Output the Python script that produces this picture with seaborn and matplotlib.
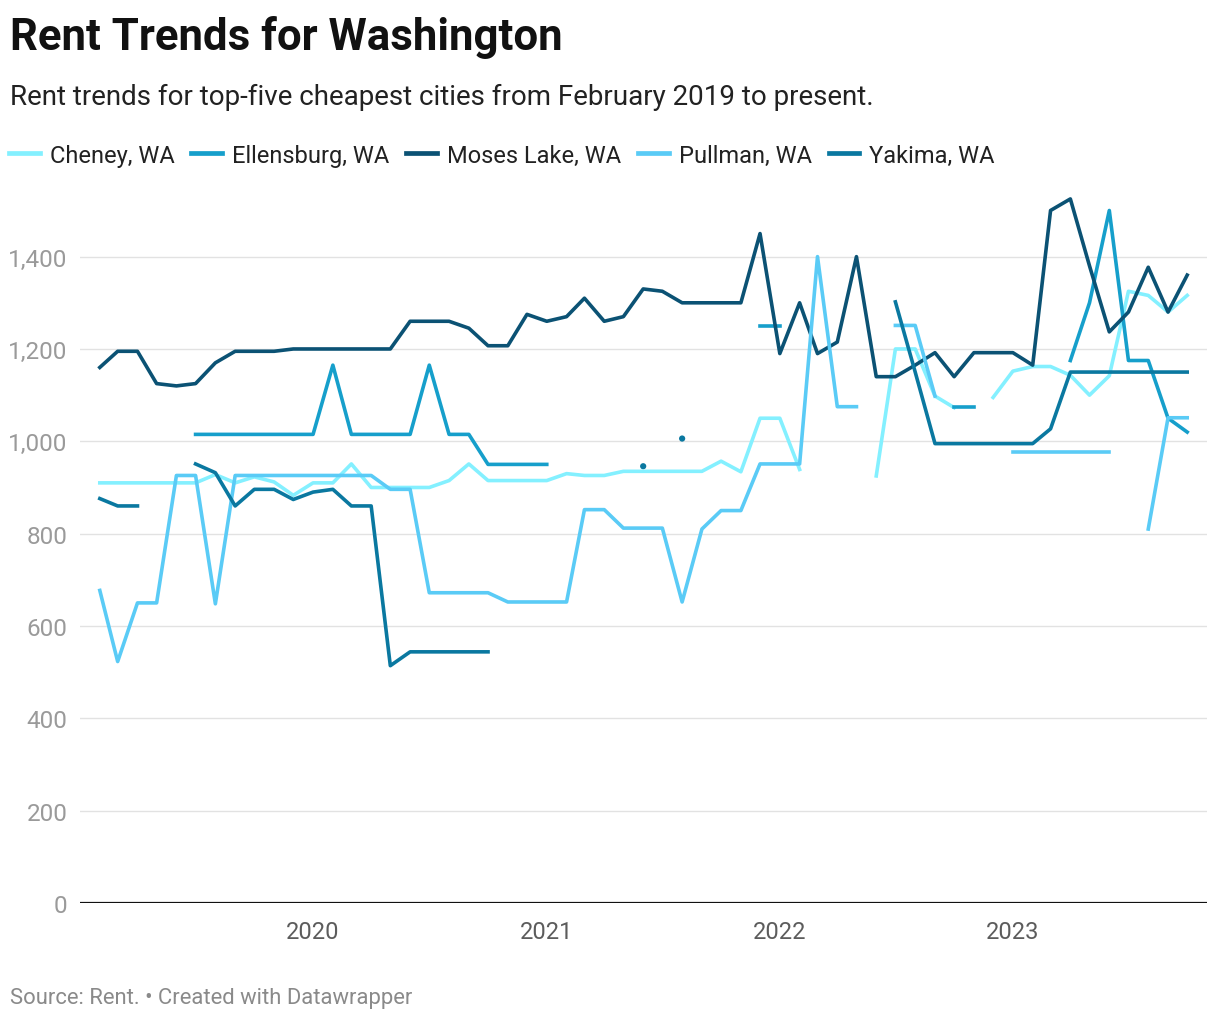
import numpy as np
import pandas as pd
import matplotlib
matplotlib.use("Agg")
import matplotlib.pyplot as plt
from matplotlib.lines import Line2D
from matplotlib.ticker import FuncFormatter
import seaborn as sns

nan = np.nan

# monthly, Feb 2019 .. Oct 2023
months = pd.date_range("2019-02-01", periods=57, freq="MS")

cheney = [910, 910, 910, 910, 910, 910, 928, 910, 923, 912,
          883, 910, 910, 951, 900, 900, 900, 900, 915, 951,
          915, 915, 915, 915, 930, 926, 926, 935, 935, 935,
          935, 935, 957, 934, 1050, 1050, 939, nan, nan, nan,
          925, 1200, 1200, 1098, 1073, nan, 1095, 1152, 1162, 1162,
          1143, 1100, 1142, 1325, 1316, 1280, 1316]
ellensburg = [nan, nan, nan, nan, nan, 1015, 1015, 1015, 1015, 1015,
              1015, 1015, 1165, 1015, 1015, 1015, 1015, 1165, 1015, 1015,
              950, 950, 950, 950, nan, nan, nan, nan, nan, nan,
              nan, nan, nan, nan, 1250, 1250, nan, nan, nan, nan,
              nan, nan, nan, nan, 1075, 1075, nan, nan, nan, nan,
              1175, 1300, 1500, 1175, 1175, 1050, 1020]
moses_lake = [1160, 1195, 1195, 1125, 1120, 1125, 1170, 1195, 1195, 1195,
              1200, 1200, 1200, 1200, 1200, 1200, 1260, 1260, 1260, 1245,
              1207, 1207, 1275, 1260, 1270, 1310, 1260, 1270, 1330, 1325,
              1300, 1300, 1300, 1300, 1450, 1190, 1300, 1190, 1215, 1400,
              1140, 1140, 1165, 1192, 1140, 1192, 1192, 1192, 1165, 1500,
              1525, 1380, 1237, 1280, 1377, 1280, 1360]
pullman = [677, 523, 650, 650, 926, 926, 648, 926, 926, 926,
           926, 926, 926, 926, 926, 896, 896, 672, 672, 672,
           672, 652, 652, 652, 652, 852, 852, 812, 812, 812,
           652, 810, 850, 850, 951, 951, 951, 1400, 1075, 1075,
           nan, 1251, 1251, 1098, nan, nan, nan, 977, 977, 977,
           977, 977, 977, nan, 810, 1051, 1051]
yakima = [876, 860, 860, nan, nan, 951, 932, 860, 896, 896,
          874, 890, 896, 860, 860, 514, 544, 544, 544, 544,
          544, nan, nan, nan, nan, nan, nan, nan, 946, nan,
          1006, nan, nan, nan, nan, nan, nan, nan, nan, nan,
          nan, 1302, 1150, 995, 995, 995, 995, 995, 995, 1027,
          1150, 1150, 1150, 1150, 1150, 1150, 1150]

cities = ["Cheney, WA", "Ellensburg, WA", "Moses Lake, WA", "Pullman, WA", "Yakima, WA"]
colors = ["#84f0ff", "#169fcb", "#0b5274", "#5acbf6", "#0a78a0"]
year_ticks = ["2020", "2021", "2022", "2023"]

frames = []
for city, vals in zip(cities, [cheney, ellensburg, moses_lake, pullman, yakima]):
    s = pd.Series(vals, dtype=float)
    d = pd.DataFrame({"date": months, "rent": s, "city": city,
                      "seg": s.isna().cumsum()})
    frames.append(d.dropna())
df = pd.concat(frames, ignore_index=True)
df["n"] = df.groupby(["city", "seg"])["rent"].transform("size")
palette = dict(zip(cities, colors))

plt.rcParams["font.family"] = ["Roboto", "DejaVu Sans"]

fig = plt.figure(figsize=(12.2, 10.2), dpi=100)
ax = fig.add_axes([80 / 1220, 1 - 904 / 1020, 1127 / 1220, 711 / 1020])

sns.lineplot(data=df, x="date", y="rent", hue="city", units="seg",
             estimator=None, palette=palette, linewidth=2.6,
             legend=False, ax=ax)
sns.scatterplot(data=df[df["n"] == 1], x="date", y="rent", hue="city",
                palette=palette, s=20, linewidth=0, legend=False, ax=ax)

ax.set_xlim(pd.Timestamp("2019-01-01"), pd.Timestamp("2023-11-01"))
ax.set_ylim(0, 1540)
ax.set_yticks(range(0, 1401, 200))
ax.yaxis.set_major_formatter(FuncFormatter(lambda v, p: f"{int(v):,}"))
ax.set_xticks([pd.Timestamp(f"{y}-01-01") for y in year_ticks])
ax.set_xticklabels(year_ticks)
ax.grid(axis="y", color="#e2e2e2", linewidth=1)
ax.set_axisbelow(True)
ax.axhline(0, color="#111111", linewidth=1.6, zorder=5)
for sp in ax.spines.values():
    sp.set_visible(False)
ax.tick_params(axis="y", length=0, pad=9, labelsize=17.5, labelcolor="#9a9a9a")
ax.tick_params(axis="x", length=0, pad=12, labelsize=17, labelcolor="#5c5c5c")
ax.set_xlabel("")
ax.set_ylabel("")

fig.text(10 / 1220, 1 - 50 / 1020, "Rent Trends for Washington",
         fontsize=31.5, fontweight="bold", color="#111111", va="baseline")
fig.text(10 / 1220, 1 - 105 / 1020,
         "Rent trends for top-five cheapest cities from February 2019 to present.",
         fontsize=20, color="#222222", va="baseline")

handles = [Line2D([], [], color=c, linewidth=3.4) for c in colors]
fig.legend(handles, cities, loc="center left",
           bbox_to_anchor=(9 / 1220, 1 - 156 / 1020), ncol=5, frameon=False,
           fontsize=17, handlelength=1.3, handletextpad=0.42,
           columnspacing=0.72, borderpad=0, borderaxespad=0,
           labelcolor="#222222")

fig.text(10 / 1220, 1 - 1004 / 1020, "Source: Rent. \u2022 Created with Datawrapper",
         fontsize=15.8, color="#8a8a8a", va="baseline")

fig.savefig("out.png", dpi=100)
